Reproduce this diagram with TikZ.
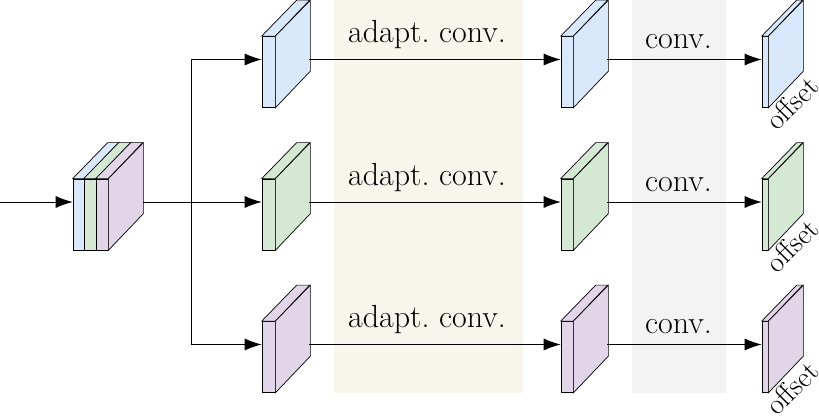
\documentclass[tikz,border=0pt]{standalone}
\usetikzlibrary{arrows.meta}
\definecolor{mapblue}{HTML}{DAE8FC}
\definecolor{mapgreen}{HTML}{D5E8D4}
\definecolor{mappurple}{HTML}{E1D5E7}
\definecolor{bgbeige}{HTML}{F8F5EC}
\definecolor{bggrey}{HTML}{F3F3F3}
\tikzset{
  fmap/.style={draw, rectangle, inner sep=0pt, minimum height=71pt, line width=0.7pt},
  link/.style={line width=0.8pt, -{Latex[length=17pt,width=12pt]}},
  lbl/.style={font=\fontsize{32}{36}\selectfont, inner sep=0pt, anchor=base}
}
% feature map: name, x, y (centre), width, colour
\newcommand\fmap[5]{
  \node[fmap, fill=#5, minimum width=#4pt] (#1) at (#2,#3) {};
  \draw[line width=0.7pt, fill=#5] (#1.north west) -- ++(35,-36) -- ++(#4,0) -- ($(#1.north east)$) -- cycle;
  \draw[line width=0.7pt, fill=#5] (#1.north east) -- ++(35,-36) -- ++(0,71) -- (#1.south east) -- cycle;
}
\usetikzlibrary{calc}
\begin{document}
\begin{tikzpicture}[x=1pt, y=-1pt]
\useasboundingbox (0,0) rectangle (819,419);
\fill[bgbeige] (334,0) rectangle (523,393);
\fill[bggrey] (632,0) rectangle (726,393);
% input stack
\fmap{inb}{78.5}{214.5}{11}{mapblue}
\fmap{ing}{90}{214.5}{12}{mapgreen}
\fmap{inp}{102}{214.5}{12}{mappurple}
\coordinate (src) at (0,202);
\coordinate (split) at (191,202);
\draw[link] (src) -- ([yshift=12.5pt]inb.west);
\draw[line width=0.8pt] ([yshift=12.5pt]inp.east) ++(35,0) -- (split);
\foreach \r/\yc/\col in {1/72/mapblue, 2/214.5/mapgreen, 3/357/mappurple}{
  \fmap{a\r}{268.5}{\yc}{13}{\col}
  \fmap{b\r}{567}{\yc}{12}{\col}
  \fmap{c\r}{765}{\yc}{6}{\col}
  \coordinate (t\r) at (191,\yc-12.5);
  \draw[line width=0.8pt] (split) -- (t\r);
  \draw[link] (t\r) -- ([yshift=12.5pt]a\r.west);
  \draw[link] ([xshift=34pt,yshift=12.5pt]a\r.east) -- node[lbl, above=0pt, yshift=10pt, xshift=-8pt] {adapt.\ conv.} ([yshift=12.5pt]b\r.west);
  \draw[link] ([xshift=34pt,yshift=12.5pt]b\r.east) -- node[lbl, above=0pt, yshift=10pt, xshift=-6pt] {conv.} ([yshift=12.5pt]c\r.west);
  \node[font=\fontsize{29}{32}\selectfont, rotate=45, inner sep=0pt] (o\r) at (792,\yc+31) {offset};
}
\end{tikzpicture}
\end{document}
